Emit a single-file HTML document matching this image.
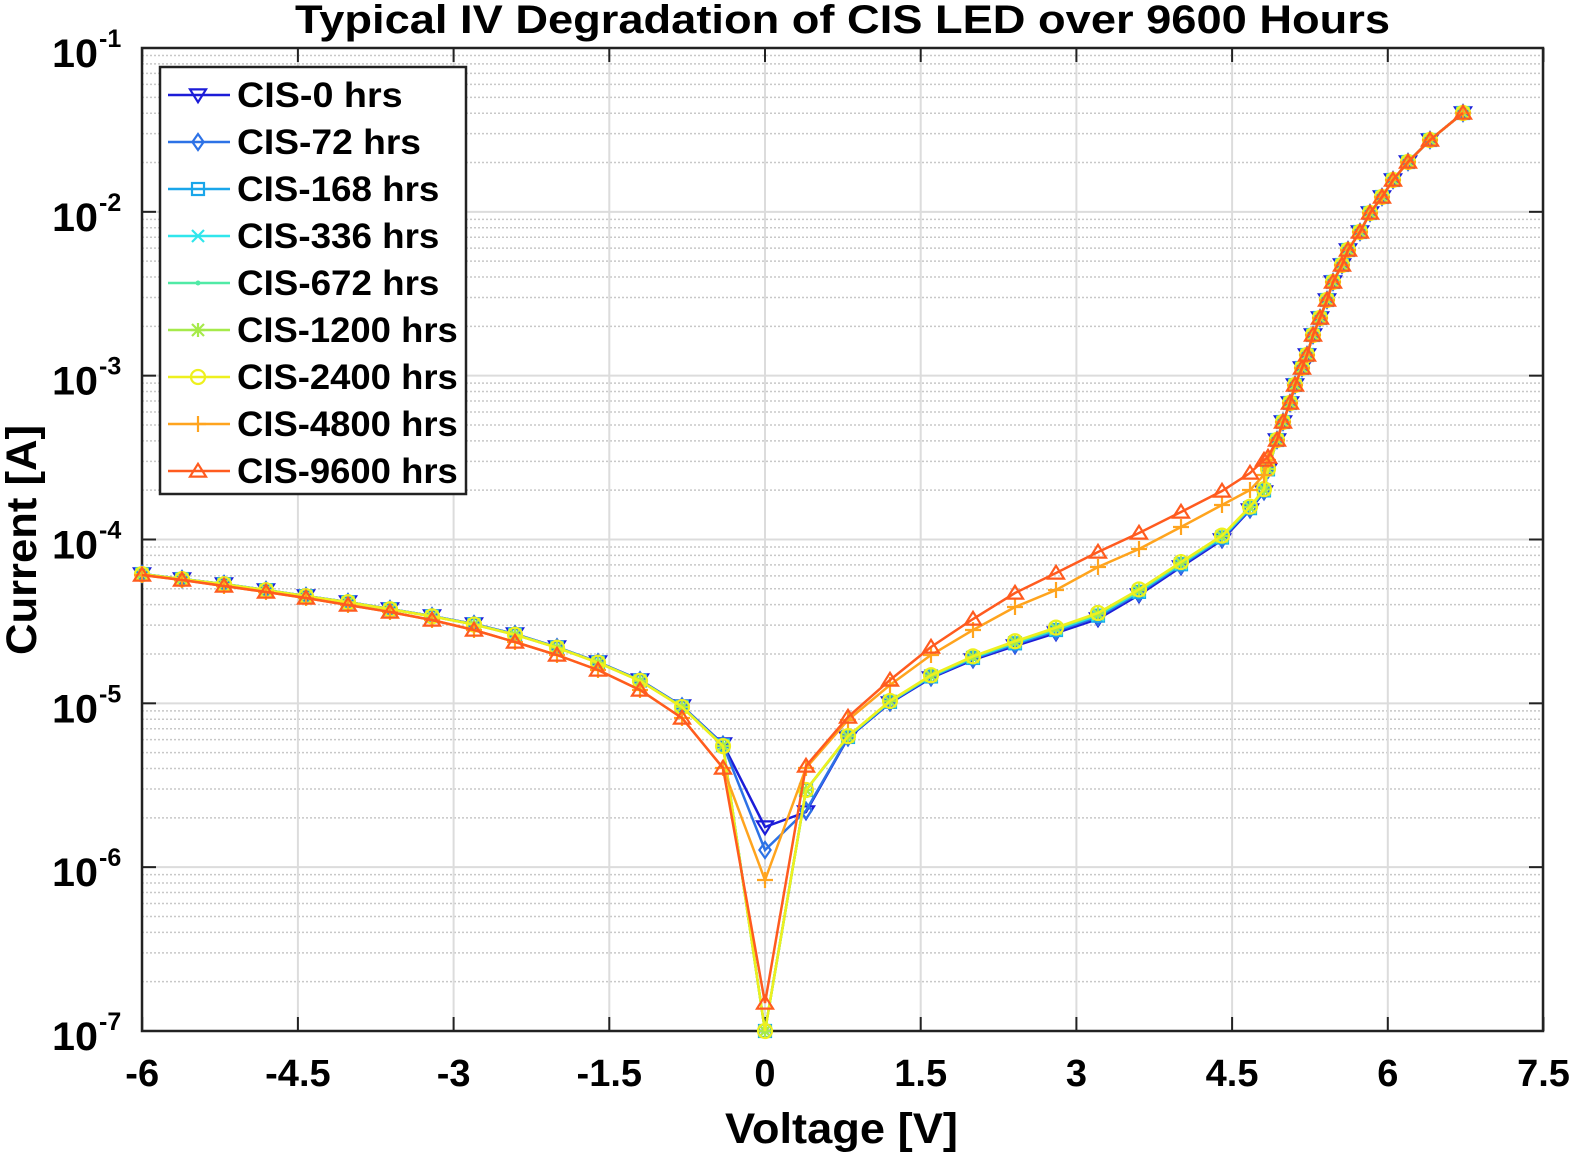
<!DOCTYPE html>
<html><head><meta charset="utf-8"><style>
html,body{margin:0;padding:0;background:#fff;}
svg{display:block;font-family:"Liberation Sans",Arial,sans-serif;font-weight:bold;}
</style></head><body>
<svg id="s" width="1570" height="1157" viewBox="0 0 1570 1157" xmlns="http://www.w3.org/2000/svg"></svg>
<script>
const S=document.getElementById('s');let h='';
const L=142,R=1543,T=48,B=1031;
const X=v=>765+103.8*v, Y=lg=>48+(-1-lg)*163.83;
for(let d=-7;d<-1;d++)for(let m=2;m<10;m++){const y=Y(d+Math.log10(m));h+=`<line x1="${L}" x2="${R}" y1="${y}" y2="${y}" stroke="#c8c8c8" stroke-width="1.5" stroke-dasharray="2,2"/>`;}
for(let d=-7;d<=-1;d++){const y=Y(d);h+=`<line x1="${L}" x2="${R}" y1="${y}" y2="${y}" stroke="#dcdcdc" stroke-width="2"/>`;}
const xt=[-6,-4.5,-3,-1.5,0,1.5,3,4.5,6,7.5];
xt.forEach(v=>{const x=X(v);h+=`<line x1="${x}" x2="${x}" y1="${T}" y2="${B}" stroke="#dcdcdc" stroke-width="2"/>`;});
h+=`<rect x="${L}" y="${T}" width="${R-L}" height="${B-T}" fill="none" stroke="#222" stroke-width="2.5"/>`;
xt.forEach(v=>{const x=X(v);h+=`<line x1="${x}" x2="${x}" y1="${B}" y2="${B-14}" stroke="#222" stroke-width="2"/><line x1="${x}" x2="${x}" y1="${T}" y2="${T+14}" stroke="#222" stroke-width="2"/><text x="${x}" y="1086" font-size="38" text-anchor="middle">${v}</text>`;});
for(let d=-7;d<=-1;d++){const y=Y(d);h+=`<line x1="${L}" x2="${L+14}" y1="${y}" y2="${y}" stroke="#222" stroke-width="2"/><line x1="${R}" x2="${R-14}" y1="${y}" y2="${y}" stroke="#222" stroke-width="2"/><text x="52" y="${y+19}" font-size="40" textLength="46" lengthAdjust="spacingAndGlyphs">10</text><text x="99" y="${y-1}" font-size="25">${d}</text>`;}
h+=`<text x="295" y="33" font-size="40" textLength="1095" lengthAdjust="spacingAndGlyphs">Typical IV Degradation of CIS LED over 9600 Hours</text>`;
h+=`<text x="725" y="1143" font-size="43" textLength="233" lengthAdjust="spacingAndGlyphs">Voltage [V]</text>`;
h+=`<text transform="translate(36,655) rotate(-90)" font-size="43" textLength="230" lengthAdjust="spacingAndGlyphs">Current [A]</text>`;
const xs=[142,182,224,266,306,348,390,432,474,515,557,598,640,682,723,765,806,848,890,931,973,1015,1056,1098,1139,1181,1222,1250,1264,1268,1277,1283,1290,1295,1302,1307,1313,1320,1327,1333,1342,1348,1360,1370,1382,1393,1408,1430,1463];
const red=[575,580,586,592,598,605,612,620,630,642,655,670,690,718,768,1003,766,717,680,647,619,593,573,552,533,512,491,473,460,457,440,422,403,385,368,355,335,318,300,282,265,250,232,213,197,180,162,140,113];
const blue=[574,579,584,590,596,602,609,616,624,634,647,662,680,706,744,827,812,738,703,678,660,646,633,619,595,567,540,510,492,470,440,422,403,385,368,355,335,318,300,282,265,250,232,213,197,180,162,140,113];
const org=[575,580,586,592,598,605,612,620,630,642,655,670,690,718,768,880,768,720,685,655,630,607,590,567,549,527,505,490,475,460,440,422,403,385,368,355,335,318,300,282,265,250,232,213,197,180,162,140,113];
const ser=[["CIS-0 hrs","#1c1cd8",0,827,"tri-d"],["CIS-72 hrs","#2d72e6",0.03,850,"dia"],["CIS-168 hrs","#1aa6ea",0.05,1031,"sq"],["CIS-336 hrs","#30e6ec",0.06,1031,"x"],["CIS-672 hrs","#50eaa6",0.07,1031,"dot"],["CIS-1200 hrs","#a6ea4a",0.08,1031,"star"],["CIS-2400 hrs","#eef01e",0.09,1031,"circ"],["CIS-4800 hrs","#ffa41e",-1,880,"plus"],["CIS-9600 hrs","#ff5b1f",1,1003,"tri"]];
function mk(t,x,y,c){const r=8;switch(t){
case "tri-d":return `<polygon points="${x-r},${y-r*0.7} ${x+r},${y-r*0.7} ${x},${y+r*0.9}" fill="none" stroke="${c}" stroke-width="2.2"/>`;
case "tri":return `<polygon points="${x-r},${y+r*0.7} ${x+r},${y+r*0.7} ${x},${y-r*0.9}" fill="none" stroke="${c}" stroke-width="2.2"/>`;
case "dia":return `<polygon points="${x},${y-r} ${x+r*0.7},${y} ${x},${y+r} ${x-r*0.7},${y}" fill="none" stroke="${c}" stroke-width="2.2"/>`;
case "sq":return `<rect x="${x-6}" y="${y-6}" width="12" height="12" fill="none" stroke="${c}" stroke-width="2.2"/>`;
case "x":return `<path d="M${x-6} ${y-6}L${x+6} ${y+6}M${x-6} ${y+6}L${x+6} ${y-6}" stroke="${c}" stroke-width="2.2"/>`;
case "dot":return `<circle cx="${x}" cy="${y}" r="2.5" fill="${c}"/>`;
case "star":return `<path d="M${x-6} ${y-6}L${x+6} ${y+6}M${x-6} ${y+6}L${x+6} ${y-6}M${x-7} ${y}L${x+7} ${y}M${x} ${y-7}L${x} ${y+7}" stroke="${c}" stroke-width="2.2"/>`;
case "circ":return `<circle cx="${x}" cy="${y}" r="7" fill="none" stroke="${c}" stroke-width="2.2"/>`;
case "plus":return `<path d="M${x-8} ${y}L${x+8} ${y}M${x} ${y-8}L${x} ${y+8}" stroke="${c}" stroke-width="2.2"/>`;}}
ser.forEach((s,k)=>{const [n,c,w,dip,m]=s;let pts=xs.map((x,i)=>{let y=w<0?org[i]:blue[i]+w*(red[i]-blue[i]);if(i==15)y=dip;return [x,y];});
if(k>=2&&k<=6)pts[16][1]=790;
h+=`<polyline points="${pts.map(p=>p.join(',')).join(' ')}" fill="none" stroke="${c}" stroke-width="2.5"/>`;
pts.forEach(p=>h+=mk(m,p[0],p[1],c));});
h+=`<rect x="160" y="67" width="306" height="427" fill="#fff" stroke="#222" stroke-width="2.5"/>`;
ser.forEach((s,k)=>{const y=95+47*k;const tl=s[0].length*18.4;h+=`<line x1="168" x2="230" y1="${y}" y2="${y}" stroke="${s[1]}" stroke-width="2.5"/>`+mk(s[4],198,y,s[1])+`<text x="237" y="${y+12}" font-size="35" textLength="${tl}" lengthAdjust="spacingAndGlyphs">${s[0]}</text>`;});
S.innerHTML=h;
</script>
</body></html>
